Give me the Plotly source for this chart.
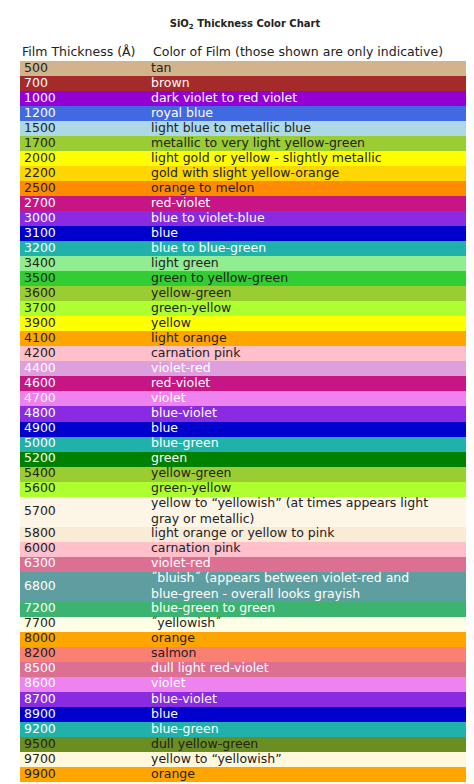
import plotly.graph_objects as go

thickness = ["500","700","1000","1200","1500","1700","2000","2200","2500","2700","3000","3100","3200","3400","3500","3600","3700","3900","4100","4200","4400","4600","4700","4800","4900","5000","5200","5400","5600","5700","5800","6000","6300","6800","7200","7700","8000","8200","8500","8600","8700","8900","9200","9500","9700","9900"]
colors_text = ["tan","brown","dark violet to red violet","royal blue","light blue to metallic blue","metallic to very light yellow-green","light gold or yellow - slightly metallic","gold with slight yellow-orange","orange to melon","red-violet","blue to violet-blue","blue","blue to blue-green","light green","green to yellow-green","yellow-green","green-yellow","yellow","light orange","carnation pink","violet-red","red-violet","violet","blue-violet","blue","blue-green","green","yellow-green","green-yellow","yellow to “yellowish” (at times appears light<br>gray or metallic)","light orange or yellow to pink","carnation pink","violet-red","˝bluish˝ (appears between violet-red and<br>blue-green - overall looks grayish","blue-green to green","˝yellowish˝","orange","salmon","dull light red-violet","violet","blue-violet","blue","blue-green","dull yellow-green","yellow to “yellowish”","orange"]
fills = ["#D2B48C","#A52A2A","#9400D3","#4169E1","#ADD8E6","#9ACD32","#FFFF00","#FFD700","#FF8C00","#C71585","#8A2BE2","#0000CD","#20B2AA","#90EE90","#32CD32","#9ACD32","#ADFF2F","#FFFF00","#FFA500","#FFC0CB","#DDA0DD","#C71585","#EE82EE","#8A2BE2","#0000CD","#20B2AA","#008000","#9ACD32","#ADFF2F","#FDF5E6","#FAEBD7","#FFC0CB","#DB7093","#5F9EA0","#3CB371","#FFFFE6","#FFA500","#FA8072","#DB7093","#EE82EE","#8A2BE2","#0000CD","#20B2AA","#6B8E23","#FFF8DC","#FFA500"]
white_rows = {"700","1000","1200","2700","3000","3100","3200","4400","4600","4700","4800","4900","5000","5200","6300","6800","7200","8500","8600","8700","8900","9200"}
fontcols = ["white" if t in white_rows else "#222222" for t in thickness]

lines = [t.count("<br>") + 1 for t in colors_text]
centers, acc = [], 0
for n in lines:
    centers.append(acc + n / 2)
    acc += n
total = acc

FONT = "DejaVu Sans"
fig = go.Figure()
fig.add_trace(go.Bar(orientation="h", y=centers, x=[451] * len(centers), width=lines,
                     marker=dict(color=fills, line=dict(width=0)), hoverinfo="skip"))
fig.add_trace(go.Scatter(x=[4] * len(centers), y=centers, mode="text", text=thickness,
                         textposition="middle right",
                         textfont=dict(family=FONT, size=12.5, color=fontcols), hoverinfo="skip"))
fig.add_trace(go.Scatter(x=[131] * len(centers), y=centers, mode="text", text=colors_text,
                         textposition="middle right",
                         textfont=dict(family=FONT, size=12.5, color=fontcols), hoverinfo="skip"))
fig.update_layout(width=474, height=784, margin=dict(l=12, r=11, t=53, b=10),
                  paper_bgcolor="white", plot_bgcolor="white", showlegend=False, bargap=0,
                  xaxis=dict(range=[0, 451], visible=False, fixedrange=True),
                  yaxis=dict(range=[total, 0], visible=False, fixedrange=True),
                  title=dict(text="<b>SiO<sub>2</sub> Thickness Color Chart</b>", x=0.5, y=0.985,
                             xanchor="center", font=dict(family=FONT, size=10, color="#222222")),
                  annotations=[
                      dict(text="Film Thickness (Å)", x=0, y=1, xref="x", yref="paper", xanchor="left",
                           yanchor="bottom", showarrow=False, font=dict(family=FONT, size=12.5, color="#222222")),
                      dict(text="Color of Film (those shown are only indicative)", x=131, y=1, xref="x", yref="paper",
                           xanchor="left", yanchor="bottom", showarrow=False,
                           font=dict(family=FONT, size=12.5, color="#222222")),
                  ])
fig.write_html("out.html")
